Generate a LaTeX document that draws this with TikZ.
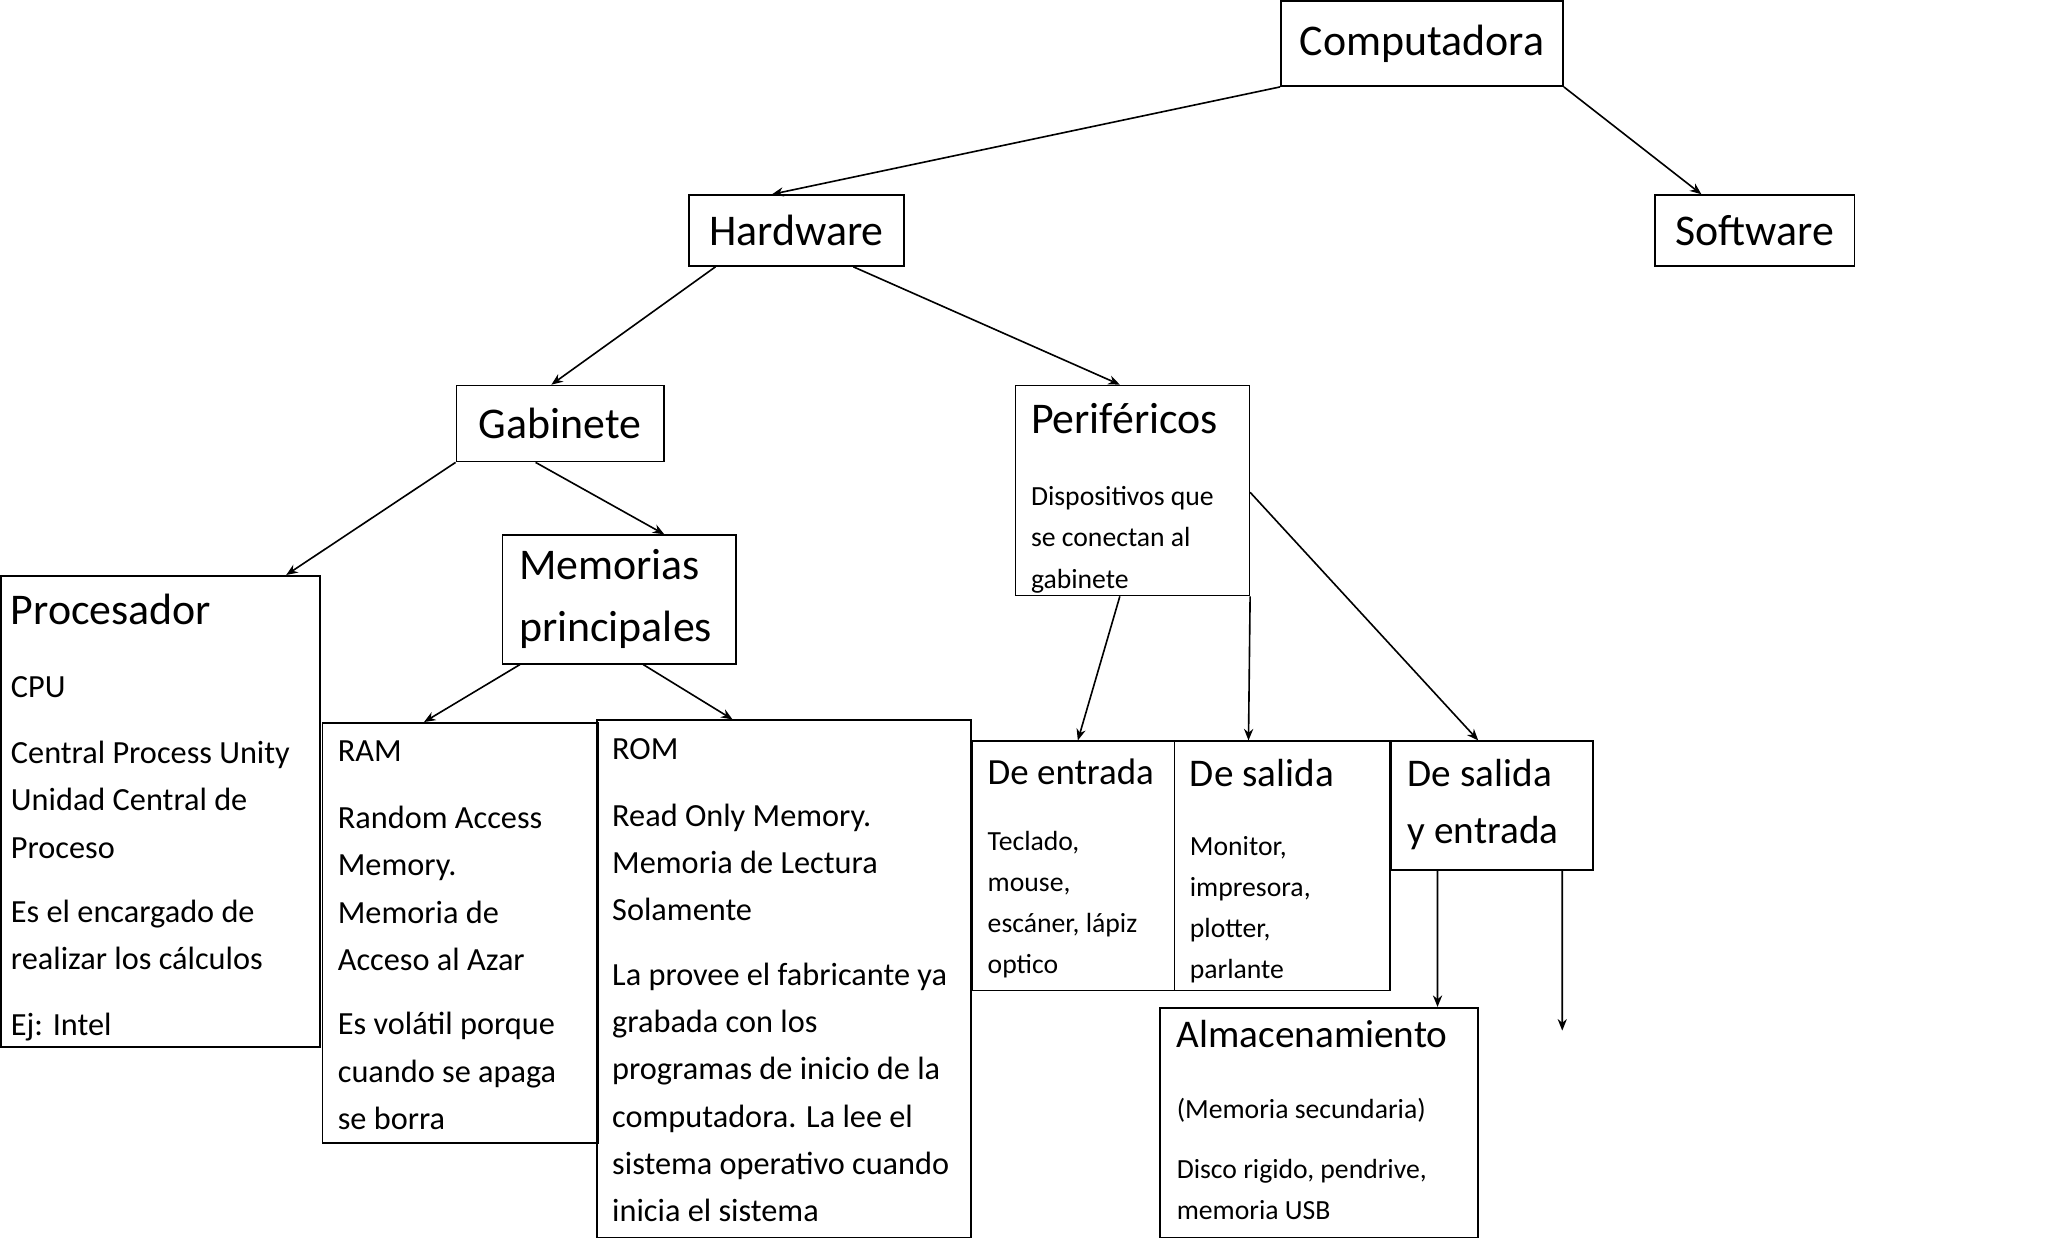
\documentclass[tikz,border=0pt]{standalone}
\usepackage{fontspec}
\setmainfont{Carlito}
\usetikzlibrary{arrows.meta}
\newcommand\fbig{\fontsize{19}{27}\selectfont}
\newcommand\fmed{\fontsize{14}{20.5}\selectfont}
\newcommand\fsml{\fontsize{12}{17}\selectfont}
\begin{document}
\begin{tikzpicture}[
    box/.style={draw,line width=0.7pt,anchor=north west,inner sep=0},
    txt/.style={anchor=north west,align=left,inner sep=0},
    link/.style={-{Stealth[length=5pt,width=4pt]},line width=0.7pt}]
    \useasboundingbox (0,0) rectangle (31.2,-18.94);
    % boxes
    \node[box,minimum width=4.3cm,minimum height=1.3cm] (comp) at (19.5,0) {\fbig Computadora};
    \node[box,minimum width=3.28cm,minimum height=1.08cm] (hw) at (10.48,-2.96) {\fbig Hardware};
    \node[box,minimum width=3.04cm,minimum height=1.08cm] (sw) at (25.2,-2.96) {\fbig Software};
    \node[box,minimum width=3.16cm,minimum height=1.16cm] (gab) at (6.94,-5.86) {\fbig Gabinete};
    \node[box,minimum width=3.56cm,minimum height=3.2cm] (per) at (15.46,-5.86) {};
    \node[box,minimum width=4.86cm,minimum height=7.18cm] (proc) at (0,-8.76) {};
    \node[box,minimum width=3.56cm,minimum height=1.96cm] (mem) at (7.64,-8.14) {};
    \node[box,minimum width=4.2cm,minimum height=6.4cm] (ram) at (4.9,-11.0) {};
    \node[box,minimum width=5.7cm,minimum height=7.88cm] (rom) at (9.08,-10.96) {};
    \node[box,minimum width=3.08cm,minimum height=3.8cm] (ent) at (14.8,-11.28) {};
    \node[box,minimum width=3.28cm,minimum height=3.8cm] (sal) at (17.88,-11.28) {};
    \node[box,minimum width=3.08cm,minimum height=1.96cm] (sye) at (21.18,-11.28) {};
    \node[box,minimum width=4.84cm,minimum height=3.5cm] (alm) at (17.66,-15.34) {};

    % texts
    \node[txt,font=\fsml] (pertxt) at ([shift={(0.24,-0.28)}]per.north west)
        {{\fbig Periféricos}\\[0.5cm]Dispositivos que\\[0.03cm]se conectan al\\[0.03cm]gabinete};
    \node[txt,font=\fmed] (proctxt) at ([shift={(0.16,-0.28)}]proc.north west)
        {{\fbig Procesador}\\[0.4cm]CPU\\[0.28cm]Central Process Unity\\Unidad Central de\\Proceso\\[0.26cm]
         Es el encargado de\\realizar los cálculos\\[0.28cm]Ej: Intel};
    \node[txt,font=\fbig] (memtxt) at ([shift={(0.26,-0.22)}]mem.north west)
        {Memorias\\principales};
    \node[txt,font=\fmed] (ramtxt) at ([shift={(0.24,-0.28)}]ram.north west)
        {RAM\\[0.3cm]Random Access\\Memory.\\Memoria de\\Acceso al Azar\\[0.26cm]
         Es volátil porque\\cuando se apaga\\se borra};
    \node[txt,font=\fmed] (romtxt) at ([shift={(0.24,-0.28)}]rom.north west)
        {ROM\\[0.3cm]Read Only Memory.\\Memoria de Lectura\\Solamente\\[0.26cm]
         La provee el fabricante ya\\grabada con los\\programas de inicio de la\\
         computadora. La lee el\\sistema operativo cuando\\inicia el sistema};
    \node[txt,font=\fsml] (enttxt) at ([shift={(0.24,-0.28)}]ent.north west)
        {{\fontsize{16}{22}\selectfont De entrada}\\[0.4cm]Teclado,\\[0.03cm]mouse,\\[0.03cm]escáner, lápiz\\[0.03cm]optico};
    \node[txt,font=\fsml] (saltxt) at ([shift={(0.24,-0.28)}]sal.north west)
        {{\fontsize{17}{22}\selectfont De salida}\\[0.45cm]Monitor,\\[0.03cm]impresora,\\[0.03cm]plotter,\\[0.03cm]parlante};
    \node[txt,font=\fontsize{17}{24.5}\selectfont] (syetxt) at ([shift={(0.26,-0.28)}]sye.north west)
        {De salida\\y entrada};
    \node[txt,font=\fsml] (almtxt) at ([shift={(0.26,-0.2)}]alm.north west)
        {{\fontsize{17}{22}\selectfont Almacenamiento}\\[0.48cm](Memoria secundaria)\\[0.32cm]Disco rigido, pendrive,\\[0.03cm]memoria USB};
    \coordinate (out) at (23.8,-15.7);

    % paths
    \draw[link] (comp.south west) -- ([xshift=1.28cm]hw.north west);
    \draw[link] (comp.south east) -- ([xshift=0.72cm]sw.north west);
    \draw[link] ([xshift=0.42cm]hw.south west) -- ([xshift=1.46cm]gab.north west);
    \draw[link] ([xshift=2.52cm]hw.south west) -- ([xshift=1.6cm]per.north west);
    \draw[link] (gab.south west) -- ([xshift=4.36cm]proc.north west);
    \draw[link] ([xshift=1.22cm]gab.south west) -- ([xshift=2.48cm]mem.north west);
    \draw[link] ([xshift=0.28cm]mem.south west) -- ([xshift=1.56cm]ram.north west);
    \draw[link] ([xshift=2.16cm]mem.south west) -- ([xshift=2.08cm]rom.north west);
    \draw[link] ([xshift=1.6cm]per.south west) -- ([xshift=1.62cm]ent.north west);
    \draw[link] (per.south east) -- ([xshift=1.14cm]sal.north west);
    \draw[link] ([yshift=-1.64cm]per.north east) -- ([xshift=1.34cm]sye.north west);
    \draw[link] ([xshift=0.72cm]sye.south west) -- ([xshift=4.24cm]alm.north west);
    \draw[link] ([xshift=2.62cm]sye.south west) -- (out);
\end{tikzpicture}
\end{document}
